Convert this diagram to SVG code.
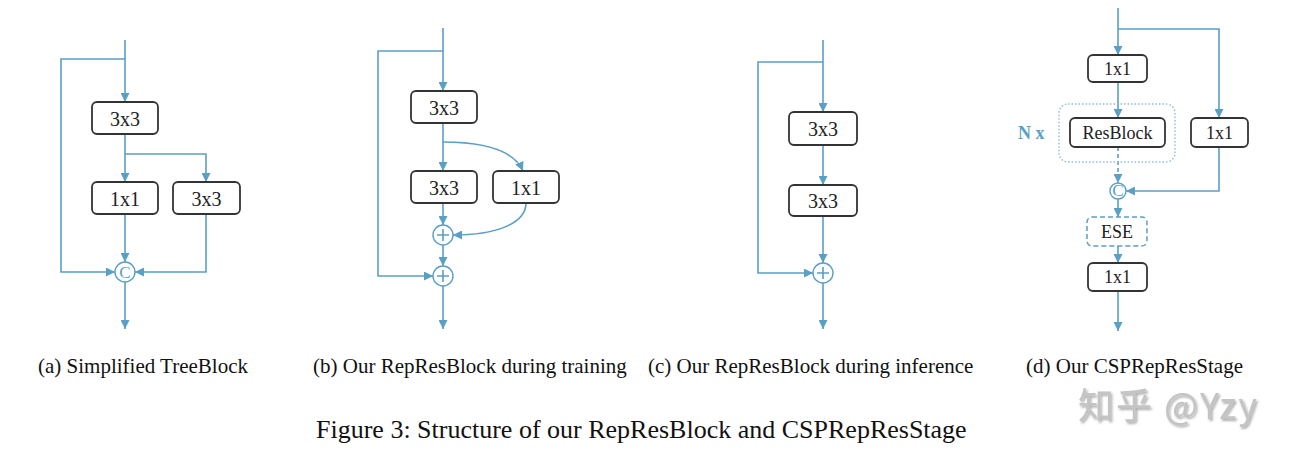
<svg xmlns="http://www.w3.org/2000/svg" width="1295" height="459" viewBox="0 0 1295 459">
<defs>
<marker id="ah" markerWidth="9" markerHeight="9" refX="9" refY="4.5" orient="auto" markerUnits="userSpaceOnUse">
<path d="M0,0 L9,4.5 L0,9 z" fill="#5a9fc4"/>
</marker>
<filter id="sh" x="-5%" y="-5%" width="115%" height="125%">
<feDropShadow dx="1.5" dy="2" stdDeviation="1" flood-color="#777" flood-opacity="0.6"/>
</filter>
</defs>
<style>
.box{fill:#fff;stroke:#333;stroke-width:1.8}
.bt{font-family:"Liberation Serif","Times New Roman",serif;font-size:20px;fill:#222;text-anchor:middle}
.bd{font-family:"Liberation Serif","Times New Roman",serif;font-size:18px;fill:#222;text-anchor:middle}
.ln{fill:none;stroke:#5a9fc4;stroke-width:1.6}
.ar{marker-end:url(#ah)}
.op{fill:#fff;stroke:#5a9fc4;stroke-width:1.4}
.ot{font-family:"Liberation Serif","Times New Roman",serif;font-size:17px;fill:#5a9fc4;text-anchor:middle}
.cap{font-family:"Liberation Serif","Times New Roman",serif;font-size:21px;fill:#111}
.fig{font-family:"Liberation Serif","Times New Roman",serif;font-size:26px;fill:#111}
</style>
<rect width="1295" height="459" fill="#fff"/>

<g id="connectors">
<!-- panel a -->
<path class="ln ar" d="M125,40 V102"/>
<path class="ln ar" d="M125,59 H61 V272 H115"/>
<path class="ln ar" d="M125,134 V182"/>
<path class="ln ar" d="M125,154 H206 V182"/>
<path class="ln ar" d="M125,214 V262"/>
<path class="ln ar" d="M206,214 V272 H135"/>
<path class="ln ar" d="M125,282 V329"/>
<!-- panel b -->
<path class="ln ar" d="M443,28 V91"/>
<path class="ln ar" d="M443,51 H378 V276 H433"/>
<path class="ln ar" d="M443,123 V171"/>
<path class="ln ar" d="M443,142 C490,142 515,153 523,171"/>
<path class="ln ar" d="M443,203 V225"/>
<path class="ln ar" d="M526,203 C526,224 495,235 453,235"/>
<path class="ln ar" d="M443,245 V266"/>
<path class="ln ar" d="M443,286 V329"/>
<!-- panel c -->
<path class="ln ar" d="M823,40 V112"/>
<path class="ln ar" d="M823,62 H758 V273 H813"/>
<path class="ln ar" d="M823,145 V185"/>
<path class="ln ar" d="M823,216 V263"/>
<path class="ln ar" d="M823,283 V329"/>
<!-- panel d -->
<path class="ln ar" d="M1118,8 V55"/>
<path class="ln ar" d="M1118,29 H1219 V118"/>
<path class="ln ar" d="M1118,82 V118"/>
<path class="ln ar" d="M1118,147 V183" stroke-dasharray="4,3"/>
<path class="ln ar" d="M1219,147 V191 H1126"/>
<path class="ln ar" d="M1118,199 V217"/>
<path class="ln ar" d="M1118,246 V263"/>
<path class="ln ar" d="M1118,291 V331"/>
</g>

<!-- panel a nodes -->
<g id="a-3x3-top"><rect class="box" x="92" y="102" width="66" height="32" rx="5"/><text class="bt" x="125" y="125.5">3x3</text></g>
<g id="a-1x1"><rect class="box" x="92" y="182" width="66" height="32" rx="5"/><text class="bt" x="125" y="205.5">1x1</text></g>
<g id="a-3x3-right"><rect class="box" x="173" y="182" width="67" height="32" rx="5"/><text class="bt" x="206.5" y="205.5">3x3</text></g>
<g id="a-concat"><circle class="op" cx="125" cy="272" r="10"/><text class="ot" x="125" y="278">C</text></g>

<!-- panel b nodes -->
<g id="b-3x3-top"><rect class="box" x="411" y="91" width="66" height="32" rx="5"/><text class="bt" x="444" y="114.5">3x3</text></g>
<g id="b-3x3"><rect class="box" x="411" y="171" width="66" height="32" rx="5"/><text class="bt" x="444" y="194.5">3x3</text></g>
<g id="b-1x1"><rect class="box" x="493" y="171" width="66" height="32" rx="5"/><text class="bt" x="526" y="194.5">1x1</text></g>
<g id="b-add1"><circle class="op" cx="443" cy="235" r="10"/><path class="ln" d="M437,235 H449 M443,229 V241" stroke-width="1.1"/></g>
<g id="b-add2"><circle class="op" cx="443" cy="276" r="10"/><path class="ln" d="M437,276 H449 M443,270 V282" stroke-width="1.1"/></g>

<!-- panel c nodes -->
<g id="c-3x3-top"><rect class="box" x="789" y="112" width="68" height="33" rx="5"/><text class="bt" x="823" y="136">3x3</text></g>
<g id="c-3x3"><rect class="box" x="789" y="185" width="68" height="31" rx="5"/><text class="bt" x="823" y="208">3x3</text></g>
<g id="c-add"><circle class="op" cx="823" cy="273" r="10"/><path class="ln" d="M817,273 H829 M823,267 V279" stroke-width="1.1"/></g>

<!-- panel d nodes -->
<g id="d-1x1-top"><rect class="box" x="1088" y="55" width="59" height="27" rx="5"/><text class="bd" x="1117.5" y="75">1x1</text></g>
<g id="d-repeat"><rect x="1059" y="104" width="116" height="58" rx="9" fill="none" stroke="#8dbdd6" stroke-width="1.4" stroke-dasharray="1.5,2"/><text x="1018" y="139" font-family="Liberation Serif, Times New Roman, serif" font-size="18" font-weight="bold" fill="#5a9fc4">N x</text></g>
<g id="d-resblock"><rect class="box" x="1070" y="118" width="95" height="29" rx="5"/><text class="bd" x="1117.5" y="139">ResBlock</text></g>
<g id="d-1x1-right"><rect class="box" x="1191" y="118" width="57" height="29" rx="5"/><text class="bd" x="1219.5" y="139">1x1</text></g>
<g id="d-concat"><circle class="op" cx="1118" cy="191" r="8"/><text class="ot" x="1118" y="196" font-size="14">C</text></g>
<g id="d-ese"><rect x="1087" y="217" width="60" height="29" rx="5" fill="#fff" stroke="#5a9fc4" stroke-width="1.5" stroke-dasharray="5,3"/><text class="bd" x="1117" y="238">ESE</text></g>
<g id="d-1x1-bottom"><rect class="box" x="1088" y="263" width="59" height="28" rx="5"/><text class="bd" x="1117.5" y="283">1x1</text></g>

<g id="captions" xml:space="preserve">
<text class="cap" x="38" y="373">(a)  Simplified TreeBlock</text>
<text class="cap" x="313" y="373">(b)  Our RepResBlock during training</text>
<text class="cap" x="648" y="373">(c)  Our RepResBlock during inference</text>
<text class="cap" x="1026" y="373">(d)  Our CSPRepResStage</text>
<text class="fig" x="316" y="438">Figure 3: Structure of our RepResBlock and CSPRepResStage</text>
</g>
<g id="watermark">
<text x="1078" y="419" font-family="Noto Sans CJK SC, sans-serif" font-size="36" letter-spacing="2" fill="#c4c4c4" filter="url(#sh)">知乎 @Yzy</text>
</g>
</svg>
